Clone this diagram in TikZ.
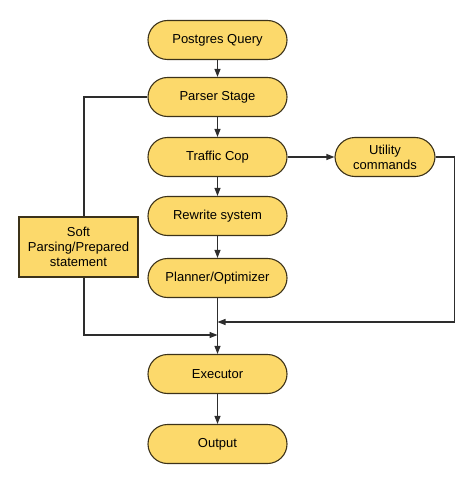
\documentclass[tikz,border=0pt]{standalone}
\usepackage{fontspec}
\setmainfont{Liberation Sans}
\usetikzlibrary{arrows.meta,calc}
\definecolor{stagefill}{RGB}{252,217,107}
\definecolor{stageline}{RGB}{60,50,25}
\definecolor{flowline}{RGB}{45,45,45}
\tikzset{
  stage/.style={draw=stageline,fill=stagefill,line width=1.1pt,rounded corners=19.5pt,
    minimum width=139pt,minimum height=39pt,inner sep=2pt,align=center,
    font=\fontsize{13}{15}\selectfont},
  sidebox/.style={draw=stageline,fill=stagefill,line width=1.1pt,
    minimum width=119pt,minimum height=60pt,inner sep=2pt,align=center,
    font=\fontsize{13}{15}\selectfont},
  flow/.style={draw=flowline,line width=1.1pt,-{Triangle[length=8pt,width=6pt]}},
  plain/.style={draw=flowline,line width=1.1pt}
}
\begin{document}
\begin{tikzpicture}[x=1pt,y=-1pt]
  \useasboundingbox (0,0) rectangle (474,484);
  % Stages
  \node [stage] (query) at (217.5,40) {Postgres Query};
  \node [stage] (parse) at (217.5,97) {Parser Stage};
  \node [stage] (cop) at (217.5,157) {Traffic Cop};
  \node [stage] (rewrite) at (217.5,216) {Rewrite system};
  \node [stage] (plan) at (217.5,278) {Planner/Optimizer};
  \node [stage] (exec) at (217.5,374) {Executor};
  \node [stage] (out) at (217.5,444) {Output};
  \node [stage,minimum width=100pt,rounded corners=20pt] (util) at (385,157) {Utility\\commands};
  \node [sidebox] (soft) at (78.5,247) {Soft\\Parsing/Prepared\\statement};
  % Junctions
  \coordinate (jright) at (217.5,322);
  \coordinate (jleft) at (217.5,335);
  % Main column
  \draw [flow] (query) -- (parse);
  \draw [flow] (parse) -- (cop);
  \draw [flow] (cop) -- (rewrite);
  \draw [flow] (rewrite) -- (plan);
  \draw [flow] (plan) -- (exec);
  % Utility branch
  \draw [flow] (cop) -- (util);
  \draw [flow] (util.east) -- ++(19,0) |- (jright);
  % Soft parse branch
  \draw [plain] (parse.west) -| ([xshift=5.5pt]soft.north);
  \draw [flow] ([xshift=5.5pt]soft.south) |- (jleft);
  % Output
  \draw [flow] (exec) -- (out);
\end{tikzpicture}
\end{document}
